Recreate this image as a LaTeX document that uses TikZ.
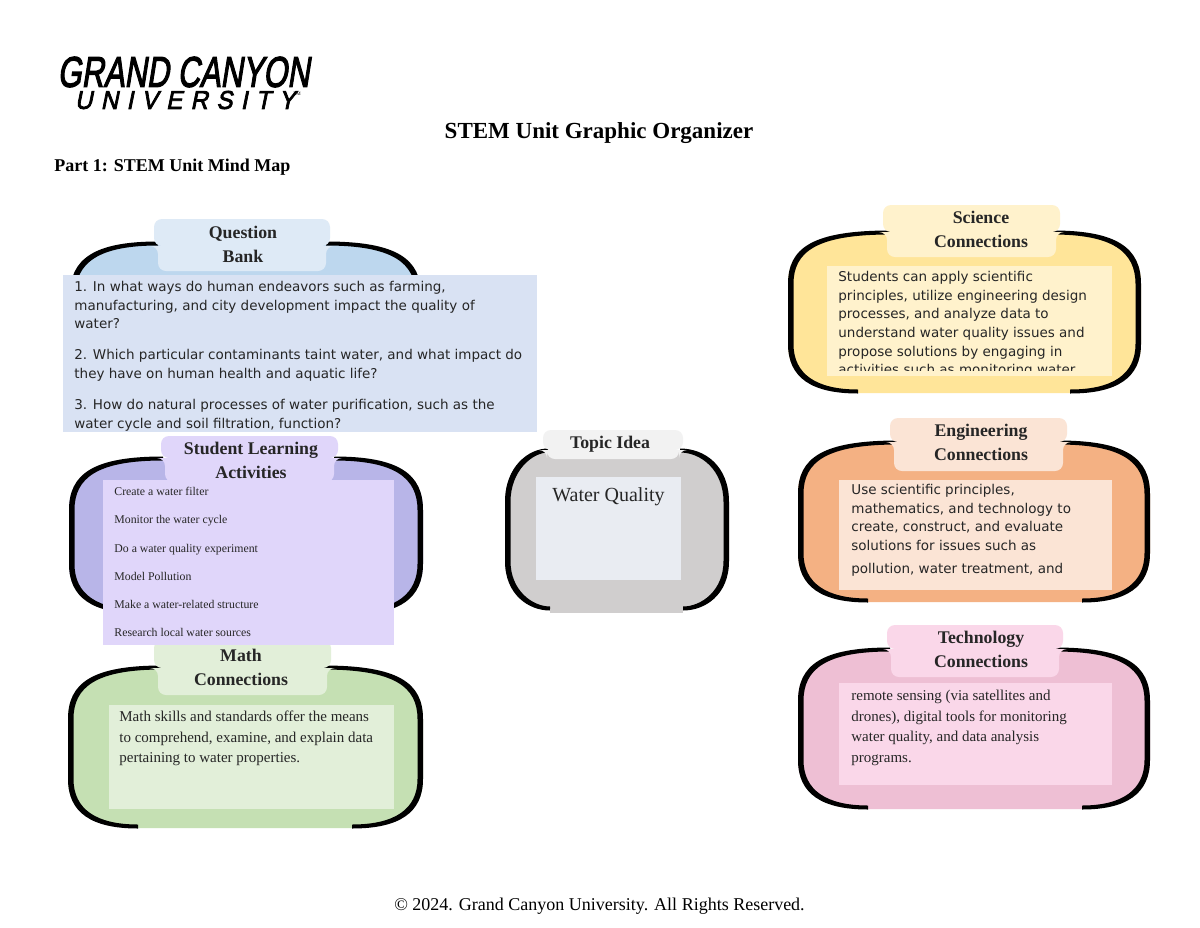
\documentclass[tikz,border=0pt]{standalone}
\usepackage{fontspec}
\setmainfont{Liberation Serif}
\newfontfamily\dejavu{DejaVu Sans}
\newfontfamily\logofont[FakeBold=3,FakeSlant=0.22]{Liberation Sans}
\definecolor{qblob}{HTML}{BDD7EE}\definecolor{qbox}{HTML}{D9E2F3}\definecolor{qtab}{HTML}{DEEAF6}
\definecolor{sblob}{HTML}{B8B5E8}\definecolor{sbox}{HTML}{E0D6FA}
\definecolor{mblob}{HTML}{C5E0B3}\definecolor{mbox}{HTML}{E2EFD9}
\definecolor{cblob}{HTML}{FFE599}\definecolor{cbox}{HTML}{FFF2CC}
\definecolor{eblob}{HTML}{F4B183}\definecolor{ebox}{HTML}{FBE4D5}
\definecolor{tblob}{HTML}{EEBFD4}\definecolor{tbox}{HTML}{FAD7E9}
\definecolor{gblob}{HTML}{D0CECE}\definecolor{gbox}{HTML}{E9ECF2}\definecolor{gtab}{HTML}{F2F2F2}
\tikzset{
 tabtitle/.style={inner sep=0pt,align=center,text=black!85,font=\bfseries\fontsize{8.9}{12}\selectfont},
 sanstext/.style={inner sep=0pt,anchor=north west,align=left,text=black!85,font=\dejavu\fontsize{6.75}{9.3}\selectfont},
 serifsmall/.style={inner sep=0pt,anchor=north west,align=left,text=black!85,font=\fontsize{5.9}{14.1}\selectfont},
 seriftext/.style={inner sep=0pt,anchor=north west,align=left,text=black!85,font=\fontsize{7.5}{10.2}\selectfont},
}
% x0 x1 top bot topleft-end topright-end botleft-end botright-end fill radius
\newcommand{\blobshape}[9]{%
 \fill[#9] ({#5},#3) -- ({#6},#3) .. controls ({#2-22},#3) and (#2,{#3+18}) .. (#2,{#3+52})
   -- (#2,{#4-48}) .. controls (#2,{#4-16}) and ({#2-22},#4) .. ({#8},{#4}) -- ({#8},{#4+1}) -- ({#7},{#4+1}) -- ({#7},#4)
   .. controls ({#1+22},#4) and (#1,{#4-16}) .. (#1,{#4-48}) -- (#1,{#3+52})
   .. controls (#1,{#3+18}) and ({#1+22},#3) .. ({#5},#3) -- cycle;
 \fill[black] ({#5},{#3-1.5}) .. controls ({#1+24},{#3-1.5}) and (#1,{#3+16}) .. (#1,{#3+52}) -- (#1,{#4-48})
   .. controls (#1,{#4-14}) and ({#1+24},{#4+1.5}) .. ({#7},{#4+1.5}) -- ({#7},{#4-2.5})
   .. controls ({#1+28},{#4-2.5}) and ({#1+5.5},{#4-18}) .. ({#1+5.5},{#4-48}) -- ({#1+5.5},{#3+52})
   .. controls ({#1+5.5},{#3+20}) and ({#1+28},{#3+2.5}) .. ({#5},{#3+2.5}) -- cycle;
 \fill[black] ({#6},{#3-1.5}) .. controls ({#2-24},{#3-1.5}) and (#2,{#3+16}) .. (#2,{#3+52}) -- (#2,{#4-48})
   .. controls (#2,{#4-14}) and ({#2-24},{#4+1.5}) .. ({#8},{#4+1.5}) -- ({#8},{#4-2.5})
   .. controls ({#2-28},{#4-2.5}) and ({#2-5.5},{#4-18}) .. ({#2-5.5},{#4-48}) -- ({#2-5.5},{#3+52})
   .. controls ({#2-5.5},{#3+20}) and ({#2-28},{#3+2.5}) .. ({#6},{#3+2.5}) -- cycle;
}
% xl xr top notch bottom fill
\newcommand{\tabshape}[6]{%
 \fill[#6,rounded corners=4pt] (#1,#3) -- (#2,#3) -- (#2,#4) -- ({#2-4},{#4}) -- ({#2-4},#5) -- ({#1+4},#5) -- ({#1+4},{#4}) -- (#1,#4) -- cycle;
}
\begin{document}
\begin{tikzpicture}[x=0.5pt,y=-0.5pt]
\useasboundingbox (0,0) rectangle (1200,927);
\fill[white] (0,0) rectangle (1200,927);

% logo
\node[inner sep=0pt,anchor=center] (logo1) at (183.5,72) {\resizebox{126pt}{15pt}{\logofont GRAND CANYON}};
\node[inner sep=0pt,anchor=center] (logo2) at (185,100) {\resizebox{110pt}{9pt}{\logofont\addfontfeature{LetterSpace=35}UNIVERSITY}};
\node[inner sep=0pt,anchor=center,font=\fontsize{2.5}{3}\selectfont] (logotm) at (297,94) {TM};

\node[inner sep=0pt,font=\bfseries\fontsize{11.5}{14}\selectfont] (title) at (599,133) {STEM Unit Graphic Organizer};
\node[inner sep=0pt,anchor=west,font=\bfseries\fontsize{9}{12}\selectfont] (part) at (54,167) {Part 1: STEM Unit Mind Map};
\node[inner sep=0pt,font=\fontsize{9}{12}\selectfont] (foot) at (599.5,906) {© 2024. Grand Canyon University. All Rights Reserved.};

% Question bank
\blobshape{70}{421}{243}{420}{158}{326}{140}{350}{qblob}
\tabshape{154}{330}{219}{246}{271}{qtab}
\node[tabtitle] (qtitle) at (243,244) {Question\\Bank};

% Math
\blobshape{68}{423}{667}{827}{162}{323}{138}{352}{mblob}
\tabshape{154}{331}{640}{668}{695}{mbox}
\node[tabtitle] (mtitle) at (241,667) {Math\\Connections};
\fill[mbox] (109,705) rectangle (394,809);
\node[seriftext] (mtext) at (119,711) {Math skills and standards offer the means\\to comprehend, examine, and explain data\\pertaining to water properties.};

% Student
\blobshape{69}{423}{458}{612}{163}{334}{140}{360}{sblob}
\tabshape{161}{338}{436}{458}{482}{sbox}
\node[tabtitle] (stitle) at (251,460) {Student Learning\\Activities};
\fill[sbox] (103,480) rectangle (394,645);
\node[serifsmall] (stext) at (114,487) {Create a water filter\\Monitor the water cycle\\Do a water quality experiment\\Model Pollution\\Make a water-related structure\\Research local water sources};

% Question box on top
\fill[qbox] (63,275) rectangle (537,432);
\begin{scope}
\clip (63,275) rectangle (537,431);
\node[sanstext] (qtext) at (74,281) {1. In what ways do human endeavors such as farming,\\manufacturing, and city development impact the quality of\\water?\\[6.2pt]2. Which particular contaminants taint water, and what impact do\\they have on human health and aquatic life?\\[6.2pt]3. How do natural processes of water purification, such as the\\water cycle and soil filtration, function?};
\end{scope}

% Topic
\blobshape{505}{729}{450}{609}{548}{680}{550}{683}{gblob}
\fill[gblob] (550,609) rectangle (683,613);
\tabshape{543}{683}{430}{450}{459}{gtab}
\node[tabtitle] (gtitle) at (610,444) {Topic Idea};
\fill[gbox] (536,477) rectangle (681,580);
\node[inner sep=0pt,font=\fontsize{10}{12}\selectfont,text=black!85] (gtext) at (608.5,497) {Water Quality};

% Science
\blobshape{788}{1141}{232}{392}{890}{1053}{858}{1070}{cblob}
\tabshape{883}{1060}{205}{232}{257}{cbox}
\node[tabtitle] (ctitle) at (981,229.5) {Science\\Connections};
\fill[cbox] (827,266) rectangle (1112,376);
\begin{scope}
\clip (827,266) rectangle (1112,370);
\node[sanstext] (ctext) at (838,271) {Students can apply scientific\\principles, utilize engineering design\\processes, and analyze data to\\understand water quality issues and\\propose solutions by engaging in\\activities such as monitoring water};
\end{scope}

% Engineering
\blobshape{798}{1150}{442}{601}{898}{1058}{868}{1082}{eblob}
\tabshape{890}{1067}{418}{442}{471}{ebox}
\node[tabtitle] (etitle) at (981,442) {Engineering\\Connections};
\fill[ebox] (839,480) rectangle (1112,590);
\node[sanstext] (etext) at (851,484) {Use scientific principles,\\mathematics, and technology to\\create, construct, and evaluate\\solutions for issues such as\\[2.2pt]pollution, water treatment, and};

% Technology
\blobshape{798}{1150}{649}{808}{890}{1055}{868}{1082}{tblob}
\tabshape{887}{1063}{625}{649}{677}{tbox}
\node[tabtitle] (ttitle) at (981,649) {Technology\\Connections};
\fill[tbox] (839,683) rectangle (1112,785);
\node[seriftext] (ttext) at (851,690) {remote sensing (via satellites and\\drones), digital tools for monitoring\\water quality, and data analysis\\programs.};
\end{tikzpicture}
\end{document}
